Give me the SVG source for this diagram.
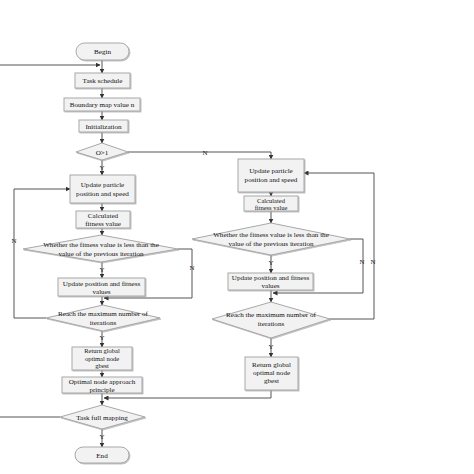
<svg xmlns="http://www.w3.org/2000/svg" width="474" height="474" viewBox="0 0 474 474">
<defs>
<marker id="ah" viewBox="0 0 10 10" refX="9" refY="5" markerWidth="5" markerHeight="5" orient="auto-start-reverse" markerUnits="userSpaceOnUse">
<path d="M0,0 L10,5 L0,10 z" fill="#333"/>
</marker>
<filter id="sh" x="-10%" y="-10%" width="130%" height="140%">
<feDropShadow dx="1" dy="1" stdDeviation="0.6" flood-color="#999" flood-opacity="0.6"/>
</filter>
</defs>
<style>
.n{fill:#f2f2f2;stroke:#a8a8a8;stroke-width:1;filter:url(#sh)}
.t{font-family:"Liberation Serif","Times New Roman",serif;font-size:7.1px;fill:#111;text-anchor:middle}
.s{font-size:6.5px}
.c{fill:none;stroke:#555;stroke-width:1}
.a{marker-end:url(#ah)}
.l{font-family:"Liberation Serif","Times New Roman",serif;font-size:7px;fill:#222;text-anchor:middle}
</style>
<rect width="474" height="474" fill="#fff"/>
<g id="connectors">
<path class="c a" d="M0,65 H100"/>
<path class="c a" d="M102,60 V73"/>
<path class="c a" d="M102,88 V98"/>
<path class="c a" d="M102,111 V120"/>
<path class="c a" d="M102,132 V143"/>
<path class="c a" d="M102,160 V175"/>
<path class="c a" d="M128,152 H271 V159"/>
<path class="c a" d="M102,203 V211"/>
<path class="c a" d="M102,228 V235"/>
<path class="c a" d="M102,262 V278"/>
<path class="c a" d="M102,296 V305"/>
<path class="c a" d="M178,249 H192 V298 H104"/>
<path class="c a" d="M46,318 H14 V189 H70"/>
<path class="c a" d="M102,331 V347"/>
<path class="c a" d="M102,370 V377"/>
<path class="c a" d="M102,393 V405"/>
<path class="c" d="M60,417 H0"/>
<path class="c a" d="M102,429 V447"/>
<path class="c a" d="M271,192 V196"/>
<path class="c a" d="M271,211 V223"/>
<path class="c a" d="M271,255 V273"/>
<path class="c a" d="M271,290 V302"/>
<path class="c a" d="M350,239 H363 V293 H273"/>
<path class="c a" d="M330,319 H374 V173 H304"/>
<path class="c a" d="M271,338 V357"/>
<path class="c a" d="M271,390 V398 H104"/>
<g>
<text class="l" x="205" y="154.5">N</text>
<text class="l" x="102" y="170">Y</text>
<text class="l" x="102" y="272">Y</text>
<text class="l" x="192" y="270">N</text>
<text class="l" x="14" y="243">N</text>
<text class="l" x="102" y="340">Y</text>
<text class="l" x="102" y="439">Y</text>
<text class="l" x="271" y="265">Y</text>
<text class="l" x="362" y="264">N</text>
<text class="l" x="373" y="264">N</text>
<text class="l" x="271" y="349">Y</text>
</g>
</g>
<g id="begin"><rect class="n" x="76" y="43" width="53" height="17" rx="8.5"/><text class="t" x="102.5" y="54">Begin</text></g>
<g id="task-schedule"><rect class="n" x="75" y="73" width="55" height="15"/><text class="t" x="102.5" y="83">Task schedule</text></g>
<g id="boundary"><rect class="n" x="64" y="98" width="76" height="13"/><text class="t" x="102" y="107">Boundary map value n</text></g>
<g id="init"><rect class="n" x="79" y="120" width="49" height="12"/><text class="t" x="103.5" y="128.5">Initialization</text></g>
<g id="o-gt-1"><polygon class="n" points="102,143 128,152 102,160 76,152"/><text class="t" x="102" y="154.5">O&gt;1</text></g>
<g id="update-l"><rect class="n" x="70" y="175" width="65" height="28"/><text class="t" x="102.5" y="186.5">Update particle</text><text class="t" x="102.5" y="196">position and speed</text></g>
<g id="calc-l"><rect class="n" x="76" y="211" width="54" height="17"/><text class="t" x="103" y="218">Calculated</text><text class="t" x="103" y="226">fitness value</text></g>
<g id="whether-l"><polygon class="n" points="101,235 178,249 101,262 23,249"/><text class="t" x="101" y="247">Whether the fitness value is less than the</text><text class="t" x="101" y="255.5">value of the previous iteration</text></g>
<g id="upd-pos-l"><rect class="n" x="58" y="278" width="87" height="18"/><text class="t" x="101.5" y="285.5">Update position and fitness</text><text class="t" x="101.5" y="293.5">values</text></g>
<g id="reach-l"><polygon class="n" points="103,305 160,318 103,331 46,318"/><text class="t" x="103" y="316">Reach the maximum number of</text><text class="t" x="103" y="324.5">iterations</text></g>
<g id="return-l"><rect class="n" x="72" y="347" width="60" height="23"/><text class="t s" x="102" y="353">Return global</text><text class="t s" x="102" y="360.5">optimal node</text><text class="t s" x="102" y="368">gbest</text></g>
<g id="optimal"><rect class="n" x="62" y="377" width="80" height="16"/><text class="t" x="102" y="384">Optimal node approach</text><text class="t" x="102" y="391.5">principle</text></g>
<g id="task-full"><polygon class="n" points="102,405 145,417 102,429 60,417"/><text class="t" x="102" y="419.5">Task full mapping</text></g>
<g id="end"><rect class="n" x="75" y="447" width="54" height="16" rx="8"/><text class="t" x="102" y="457.5">End</text></g>
<g id="update-r"><rect class="n" x="238" y="159" width="66" height="33"/><text class="t" x="271" y="173">Update particle</text><text class="t" x="271" y="181.5">position and speed</text></g>
<g id="calc-r"><rect class="n" x="244" y="196" width="54" height="15"/><text class="t s" x="271" y="202.5">Calculated</text><text class="t s" x="271" y="209.5">fitness value</text></g>
<g id="whether-r"><polygon class="n" points="271,223 350,239 271,255 192,239"/><text class="t" x="271" y="237">Whether the fitness value is less than the</text><text class="t" x="271" y="245.5">value of the previous iteration</text></g>
<g id="upd-pos-r"><rect class="n" x="228" y="273" width="85" height="17"/><text class="t" x="270.5" y="280">Update position and fitness</text><text class="t" x="270.5" y="288">values</text></g>
<g id="reach-r"><polygon class="n" points="271,302 330,319 271,338 212,319"/><text class="t" x="271" y="317">Reach the maximum number of</text><text class="t" x="271" y="325.5">iterations</text></g>
<g id="return-r"><rect class="n" x="245" y="357" width="53" height="33"/><text class="t" x="271.5" y="367">Return global</text><text class="t" x="271.5" y="375">optimal node</text><text class="t" x="271.5" y="383">gbest</text></g>
</svg>
